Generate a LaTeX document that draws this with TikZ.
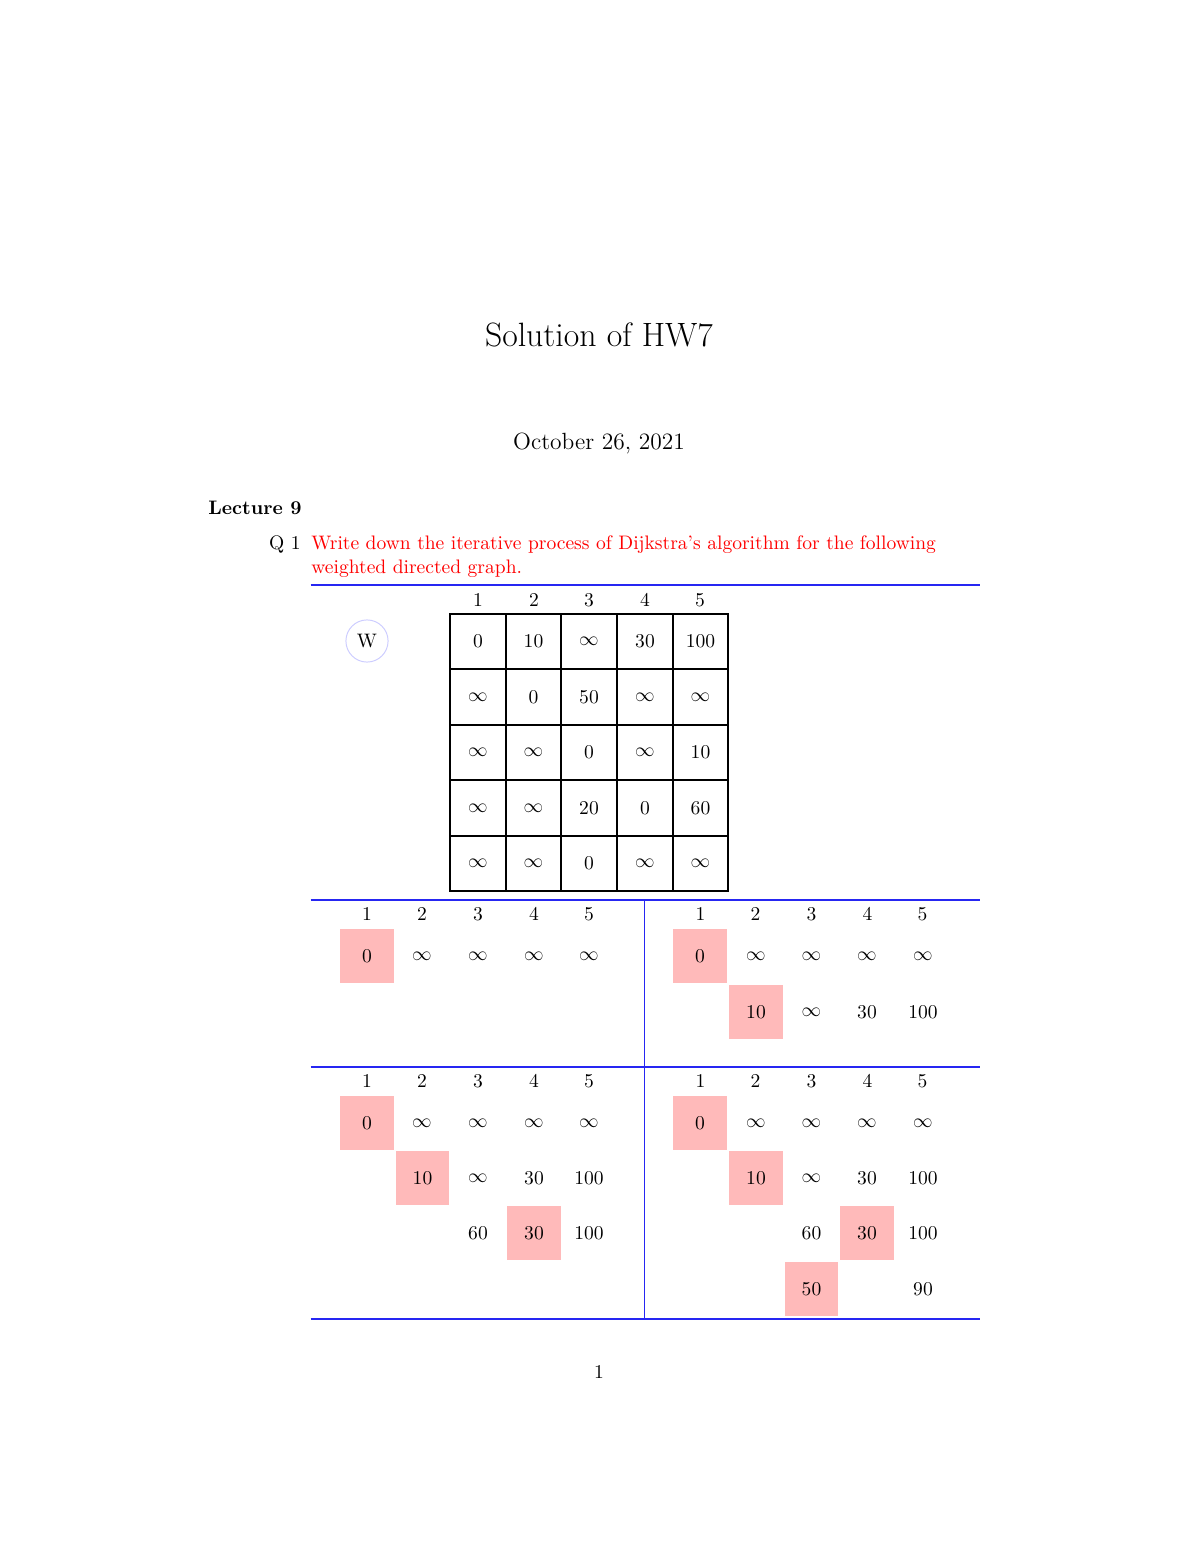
\documentclass[tikz,border=0pt]{standalone}
\newcommand{\inff}{$\infty$}
\definecolor{rulecolor}{rgb}{0.15,0.15,0.95}
\definecolor{markcolor}{rgb}{1,0.73,0.73}
\definecolor{circlecolor}{rgb}{0.8,0.8,1}
\begin{document}
\begin{tikzpicture}
[x=0.51bp,y=-0.51bp,
  cellbox/.style={shape=rectangle,draw,line width=0.9pt,minimum size=28.2bp,inner sep=0pt},
  markbox/.style={shape=rectangle,fill=markcolor,minimum size=27.3bp,inner sep=0pt},
  plaincell/.style={inner sep=0pt},
  ruledecorate/.style={-,draw=rulecolor,line width=0.9pt}]
\useasboundingbox (0,0) rectangle (1200,1553);
%% heading
\node (title) at (599,335) [plaincell,font=\fontsize{17.28}{20}\selectfont] {Solution of HW7};
\node (date) at (599,444) [plaincell,font=\fontsize{12}{14}\selectfont] {October 26, 2021};
\node (lecture) at (208,514) [plaincell,anchor=base west,font=\bfseries] {Lecture 9};
\node (qnum) at (301,549) [plaincell,anchor=base east] {Q 1};
\node (qtext) at (311,549) [plaincell,anchor=base west,text=red] {Write down the iterative process of Dijkstra's algorithm for the following};
\node (qtext2) at (311,573) [plaincell,anchor=base west,text=red] {weighted directed graph.};
\node (pagenum) at (599,1372) [plaincell] {1};
%% weight matrix
\node (w) at (367,641) [shape=circle,draw=circlecolor,line width=0.5pt,minimum size=21.5bp,inner sep=0pt] {W};
\foreach \col/\x in {1/478, 2/534, 3/589, 4/645, 5/700} {
  \node (head\col) at (\x,600) [plaincell] {\col};
}
\foreach \row/\y/\a/\b/\c/\d/\e in {
  1/641.5/0/10/\inff/30/100,
  2/697/\inff/0/50/\inff/\inff,
  3/752.5/\inff/\inff/0/\inff/10,
  4/808/\inff/\inff/20/0/60,
  5/863.5/\inff/\inff/0/\inff/\inff} {
  \foreach \col/\x/\val in {1/478/\a, 2/533.5/\b, 3/589/\c, 4/645/\d, 5/700.5/\e} {
    \node (m\row\col) at (\x,\y) [cellbox] {\val};
  }
}
%% column numbers of the four steps
\foreach \panel/\off/\y in {a/0/914, b/333.5/914, c/0/1081, d/333.5/1081} {
  \foreach \col/\x in {1/367, 2/422, 3/478, 4/534, 5/589} {
    \node (\panel head\col) at ({\x+\off},\y) [plaincell] {\col};
  }
}
%% chosen vertices
\foreach \nodename/\x/\y/\val in {a11/367/956/0,
  b11/700/956/0, b22/756/1012/10,
  c11/367/1123/0, c22/422.5/1178/10, c34/534/1233/30,
  d11/700/1123/0, d22/756/1178/10, d34/867/1233/30, d43/811.5/1289/50} {
  \node (\nodename) at (\x,\y) [markbox] {\val};
}
%% remaining distances
\foreach \nodename/\x/\y/\val in {
  a12/422/956/\inff, a13/478/956/\inff, a14/534/956/\inff, a15/589/956/\inff,
  b12/756/956/\inff, b13/811.5/956/\inff, b14/867/956/\inff, b15/923/956/\inff,
  b23/811.5/1012/\inff, b24/867/1012/30, b25/923/1012/100,
  c12/422/1123/\inff, c13/478/1123/\inff, c14/534/1123/\inff, c15/589/1123/\inff,
  c23/478/1178/\inff, c24/534/1178/30, c25/589/1178/100,
  c33/478/1233/60, c35/589/1233/100,
  d12/756/1123/\inff, d13/811.5/1123/\inff, d14/867/1123/\inff, d15/923/1123/\inff,
  d23/811.5/1178/\inff, d24/867/1178/30, d25/923/1178/100,
  d33/811.5/1233/60, d35/923/1233/100,
  d45/923/1289/90} {
  \node (\nodename) at (\x,\y) [plaincell] {\val};
}
%% rules
\foreach \rulename/\y in {one/585, two/900, three/1067, four/1319} {
  \coordinate (\rulename west) at (310.5,\y);
  \coordinate (\rulename east) at (979.5,\y);
  \draw[ruledecorate] (\rulename west) -- (\rulename east);
}
\coordinate (midtop) at (644.5,900);
\coordinate (midbottom) at (644.5,1319);
\draw[ruledecorate] (midtop) -- (midbottom);
\end{tikzpicture}
\end{document}
